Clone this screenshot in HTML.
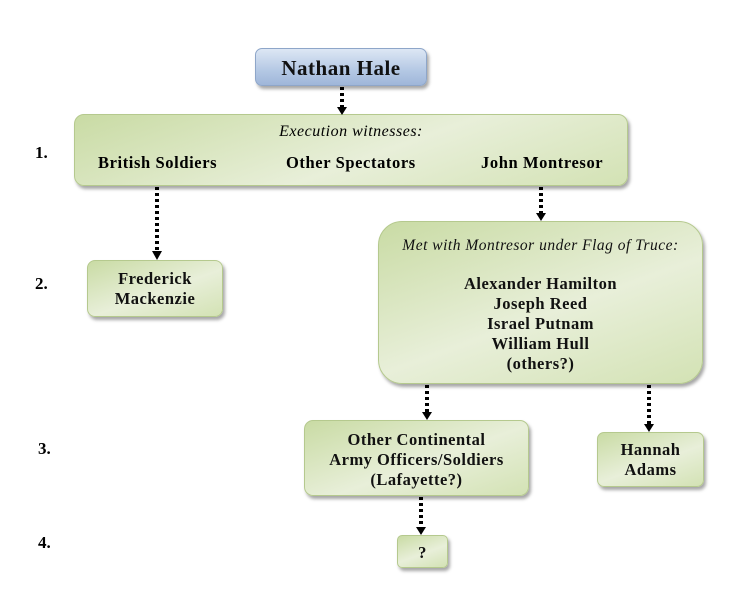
<!DOCTYPE html>
<html><head><style>
body{margin:0;width:741px;height:597px;background:#fff;position:relative;font-family:"Liberation Serif",serif;overflow:hidden}
.b{position:absolute;box-sizing:border-box;border:1px solid #b5c98e;background:linear-gradient(160deg,#c9dba4 0%,#e8efd9 55%,#d3e2b4 100%);box-shadow:2px 3px 3px rgba(0,0,0,0.35);text-align:center;font-weight:bold;font-size:16.5px;letter-spacing:0.5px;color:#111;line-height:20px}
.n{position:absolute;font-weight:bold;font-size:17px}
.t{position:absolute;font-weight:bold;font-size:16.5px;letter-spacing:0.6px}
</style></head><body>
<div class="b" style="left:255px;top:48px;width:172px;height:38px;border-radius:7px;border-color:#8ea6c9;background:linear-gradient(180deg,#dde7f4 0%,#b4c8e4 60%,#9fb6d9 100%);font-size:21px;line-height:38px">Nathan Hale</div>
<div class="b" style="left:74px;top:114px;width:554px;height:72px;border-radius:10px"></div>
<div style="position:absolute;left:74px;top:123px;width:554px;text-align:center;font-style:italic;font-size:16px;letter-spacing:0.5px">Execution witnesses:</div>
<div class="t" style="left:98px;top:153px">British Soldiers</div>
<div class="t" style="left:286px;top:153px">Other Spectators</div>
<div class="t" style="left:481px;top:153px">John Montresor</div>
<div class="b" style="left:87px;top:260px;width:136px;height:57px;border-radius:8px;padding-top:8px">Frederick<br>Mackenzie</div>
<div class="b" style="left:378px;top:221px;width:325px;height:163px;border-radius:24px;padding-top:14px"><div style="font-style:italic;font-weight:normal;font-size:15.5px;margin-bottom:18px">Met with Montresor under Flag of Truce:</div>Alexander Hamilton<br>Joseph Reed<br>Israel Putnam<br>William Hull<br>(others?)</div>
<div class="b" style="left:304px;top:420px;width:225px;height:76px;border-radius:9px;padding-top:9px">Other Continental<br>Army Officers/Soldiers<br>(Lafayette?)</div>
<div class="b" style="left:597px;top:432px;width:107px;height:55px;border-radius:7px;padding-top:7px">Hannah<br>Adams</div>
<div class="b" style="left:397px;top:535px;width:51px;height:33px;border-radius:5px;line-height:33px">?</div>
<div class="n" style="left:35px;top:143px">1.</div>
<div class="n" style="left:35px;top:274px">2.</div>
<div class="n" style="left:38px;top:439px">3.</div>
<div class="n" style="left:38px;top:533px">4.</div>
<svg width="741" height="597" style="position:absolute;left:0;top:0">
<g stroke="#000" stroke-width="4" stroke-dasharray="3,3" fill="none">
<line x1="342" y1="87" x2="342" y2="107"/>
<line x1="157" y1="187" x2="157" y2="252"/>
<line x1="541" y1="187" x2="541" y2="214"/>
<line x1="427" y1="385" x2="427" y2="413"/>
<line x1="649" y1="385" x2="649" y2="425"/>
<line x1="421" y1="497" x2="421" y2="528"/>
</g>
<g fill="#000">
<polygon points="337,107 347,107 342,115"/>
<polygon points="152,251 162,251 157,260"/>
<polygon points="536,213 546,213 541,221"/>
<polygon points="422,412 432,412 427,420"/>
<polygon points="644,424 654,424 649,432"/>
<polygon points="416,527 426,527 421,535"/>
</g>
</svg>
</body></html>
